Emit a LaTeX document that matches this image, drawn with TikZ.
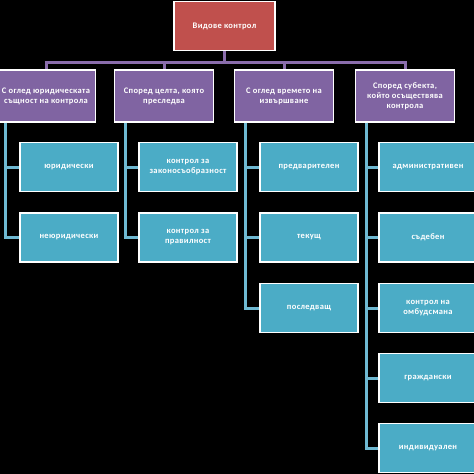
\documentclass[tikz,border=0pt]{standalone}
\usepackage{fontspec}
\setmainfont{Carlito}
\newfontfamily\boxfont[LetterSpace=4]{Carlito}
\definecolor{redbox}{HTML}{C0504D}
\definecolor{purplebox}{HTML}{8064A2}
\definecolor{tealbox}{HTML}{4BACC6}
\definecolor{tealconn}{HTML}{6FB9D2}
\definecolor{purpleconn}{HTML}{8A6DAC}
\tikzset{
  box/.style={draw=white, line width=1.8pt, text=white, align=center,
    font=\boxfont\bfseries\fontsize{8.5}{10}\selectfont, inner sep=1pt},
  topbox/.style={box, fill=redbox, minimum width=101pt, minimum height=49pt},
  catbox/.style={box, fill=purplebox, minimum width=99pt, minimum height=52pt},
  leafbox/.style={box, fill=tealbox, minimum width=98pt, minimum height=49pt},
  purpleline/.style={draw=purpleconn, line width=3pt},
  tealline/.style={draw=tealconn, line width=3pt},
}
\begin{document}
\begin{tikzpicture}[x=1pt,y=-1pt]
\useasboundingbox (0,0) rectangle (474,474);
\clip (0,0) rectangle (474,474);
\fill[black] (0,0) rectangle (474,474);
% coordinates for vertical feeders
\coordinate (v1) at (5,0);
\coordinate (v2) at (125,0);
\coordinate (v3) at (245,0);
\coordinate (v4) at (366,0);
\coordinate (bus) at (0,62);
% connectors first (behind boxes)
\coordinate (tb) at (224.5,49);
% nodes
\node[topbox] (top) at (224.5,26) {Видове контрол};
\node[catbox] (b1) at (46,96) {С оглед юридическата\\същност на контрола};
\node[catbox] (b2) at (164,96) {Според целта, която\\преследва};
\node[catbox] (b3) at (284,96) {С оглед времето на\\извършване};
\node[catbox] (b4) at (405,96) {Според субекта,\\който осъществява\\контрола};
\node[leafbox] (c11) at (69,167) {юридически};
\node[leafbox] (c12) at (69,237.5) {неюридически};
\node[leafbox] (c21) at (188,167) {контрол за\\законосъобразност};
\node[leafbox] (c22) at (188,237.5) {контрол за\\правилност};
\node[leafbox] (c31) at (309,167) {предварителен};
\node[leafbox] (c32) at (309,237.5) {текущ};
\node[leafbox] (c33) at (309,308) {последващ};
\node[leafbox] (c41) at (428,167) {административен};
\node[leafbox] (c42) at (428,237.5) {съдебен};
\node[leafbox] (c43) at (428,308) {контрол на\\омбудсмана};
\node[leafbox] (c44) at (428,378) {граждански};
\node[leafbox] (c45) at (428,448) {индивидуален};
% purple connectors
\draw[purpleline] (top.south) -- (top.south |- bus);
\draw[purpleline] ([xshift=-1.5pt]b1.north |- bus) -- ([xshift=1.5pt]b4.north |- bus);
\foreach \b in {b1,b2,b3,b4} \draw[purpleline] (\b.north |- bus) -- (\b.north);
% teal connectors
\foreach \c in {c11,c12} \draw[tealline] (b1.south -| v1) |- (\c.west);
\foreach \c in {c21,c22} \draw[tealline] (b2.south -| v2) |- (\c.west);
\foreach \c in {c31,c32,c33} \draw[tealline] (b3.south -| v3) |- (\c.west);
\foreach \c in {c41,c42,c43,c44,c45} \draw[tealline] (b4.south -| v4) |- (\c.west);
\end{tikzpicture}
\end{document}
